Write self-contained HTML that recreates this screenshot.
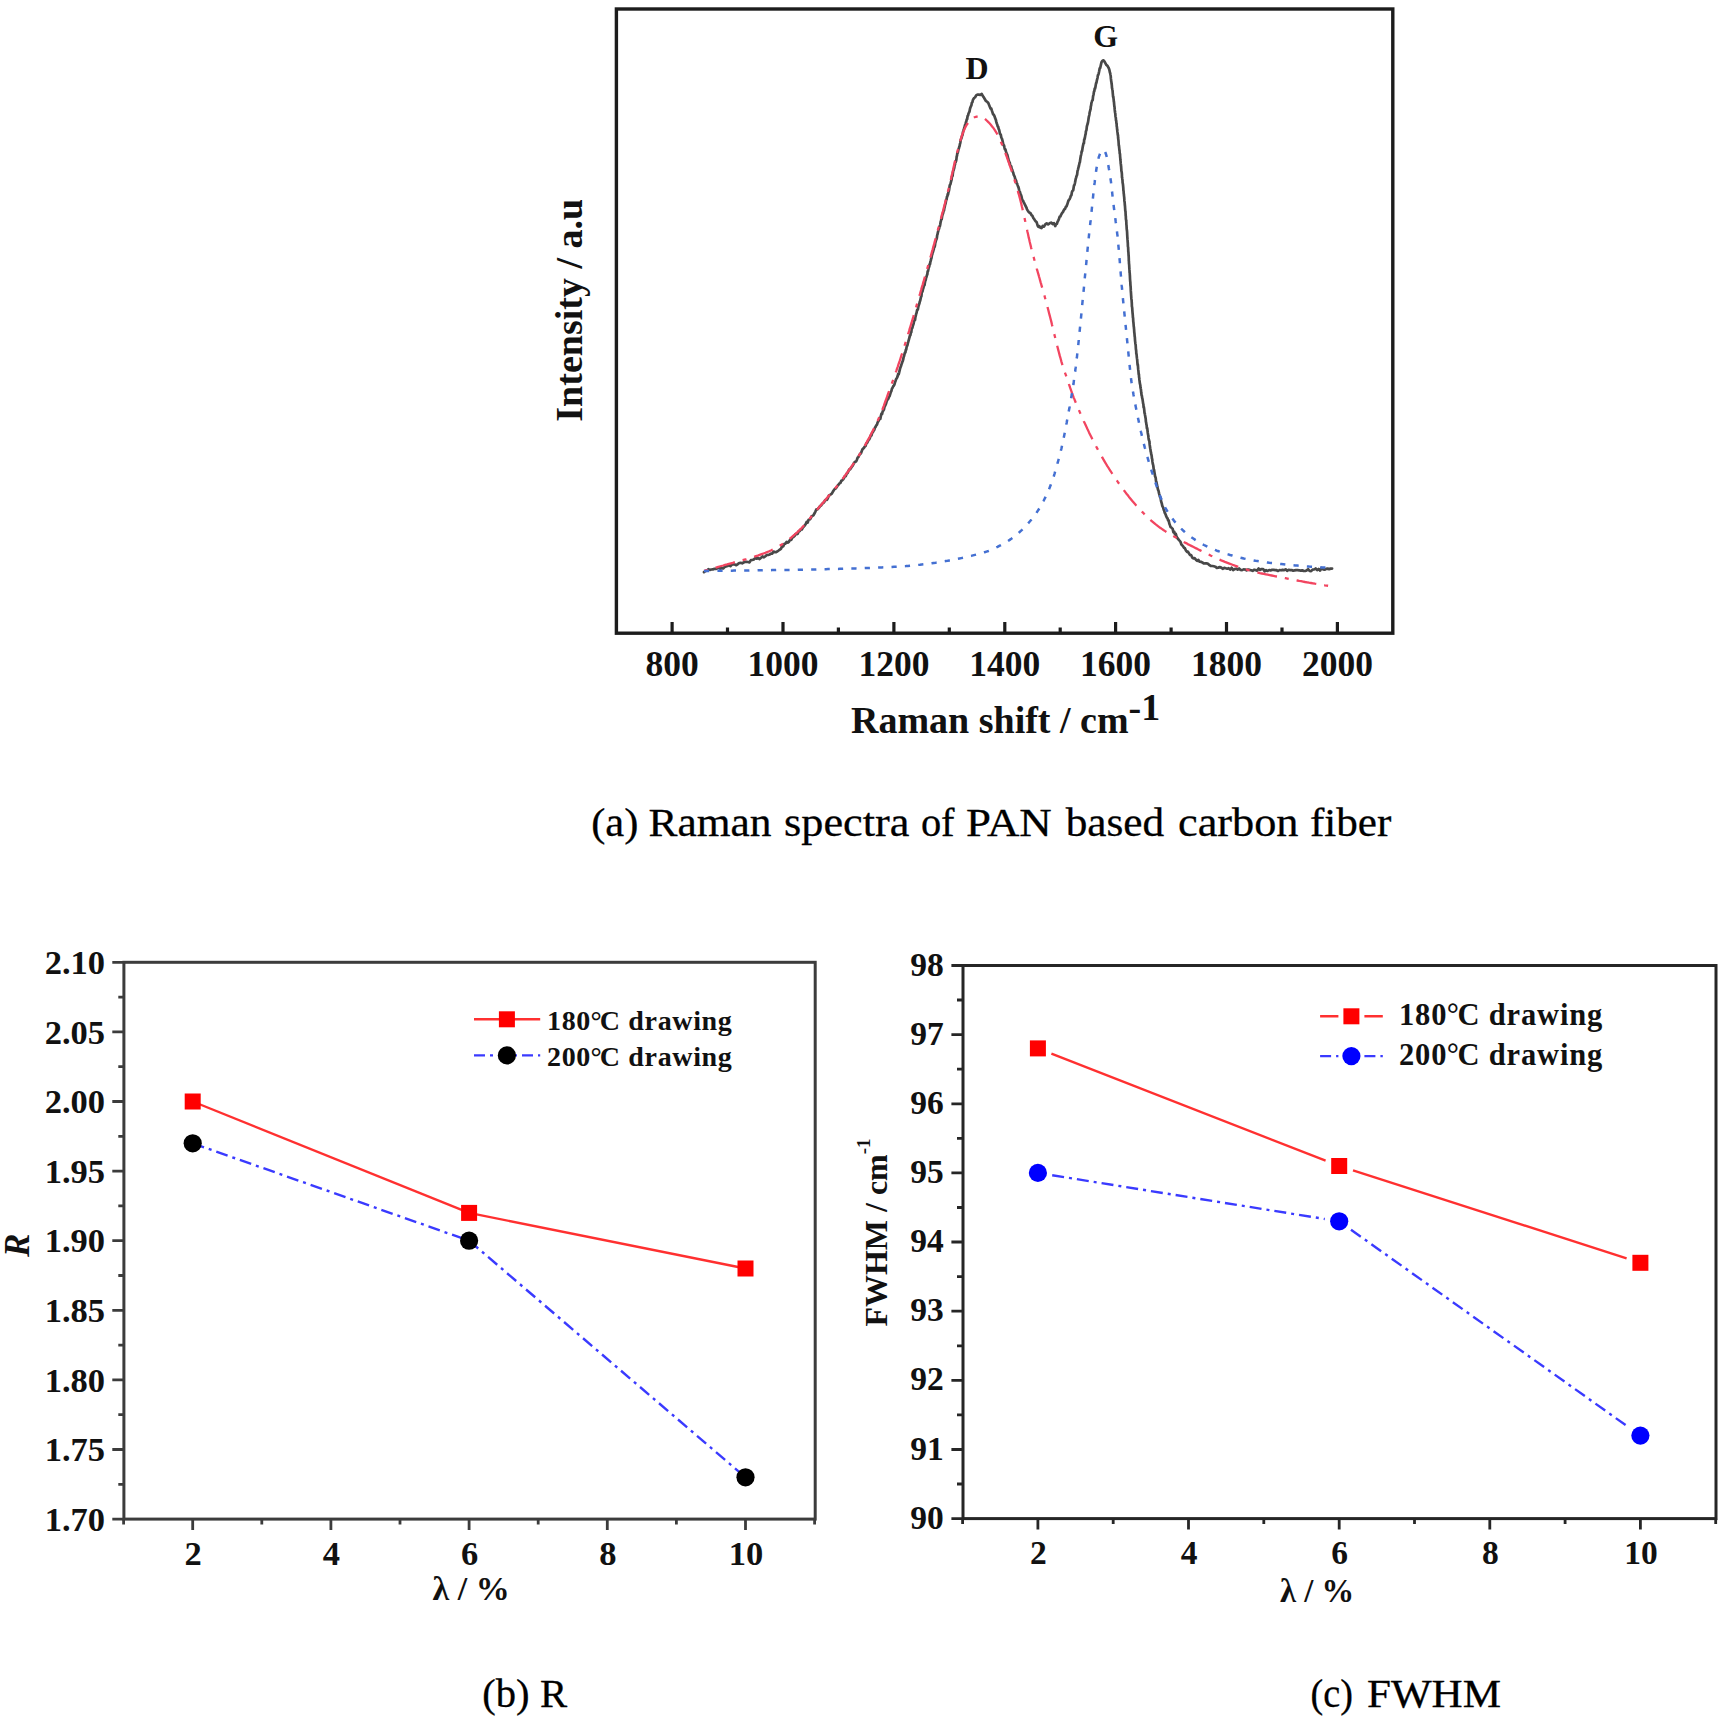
<!DOCTYPE html>
<html lang="en">
<head>
<meta charset="utf-8">
<title>Raman spectra of PAN based carbon fiber</title>
<style>
html,body{margin:0;padding:0;background:#fff;}
body{width:1720px;height:1716px;overflow:hidden;}
svg{display:block;}
text{white-space:pre;}
</style>
</head>
<body>
<svg width="1720" height="1716" viewBox="0 0 1720 1716">
<rect width="1720" height="1716" fill="#ffffff"/>
<g id="figure-graphics">
<g id="chart-a">
<path d="M704 572.1 L705.5 571 L707 570.6 L708.4 569.2 L709.9 569.9 L711.4 569.5 L712.9 569.4 L714.4 568.8 L715.8 568.9 L717.3 568.4 L718.8 567.6 L720.2 568.6 L721.7 568.2 L723.2 568.4 L724.6 567.1 L726.1 566.4 L727.5 566 L729 565.1 L730.5 566.2 L731.9 564.6 L733.4 564.2 L734.8 564.5 L736.3 565.2 L737.8 564.1 L739.2 563 L740.7 562.9 L742.2 563.3 L743.6 562.5 L745.1 561.8 L746.5 561.8 L748 562 L749.5 562.4 L750.9 560.1 L752.3 560 L753.8 559.5 L755.2 558.1 L756.7 558.6 L758.2 558.1 L759.6 559 L761.1 557.8 L762.5 556.4 L764 557.3 L765.4 556.2 L766.8 554.9 L768.2 555 L769.6 554.5 L771 553.7 L772.3 553.6 L773.6 551.6 L774.9 552.2 L776.1 552.2 L777.4 551.3 L778.6 550.5 L779.8 549.6 L780.9 548.8 L782.1 546.3 L783.2 546.4 L784.4 543.8 L785.5 543.6 L786.7 541.8 L787.8 542.6 L788.9 541.8 L790 539.9 L791.2 540 L792.3 537.6 L793.4 537 L794.5 536 L795.5 534.2 L796.6 534.1 L797.7 533.9 L798.7 531.1 L799.7 531.1 L800.8 529.4 L801.8 529.5 L802.8 527.6 L803.8 526.6 L804.8 525.4 L805.7 524.1 L806.7 521.9 L807.7 522.5 L808.6 519.7 L809.6 519.5 L810.6 518.5 L811.5 516.5 L812.5 515.9 L813.4 515.4 L814.4 513.5 L815.3 511.8 L816.3 509.4 L817.2 509.4 L818.2 508.5 L819.2 507.4 L820.1 506 L821.1 505.6 L822.1 503.9 L823 503.1 L824 502.4 L825 500.3 L826 499.5 L826.9 499.9 L827.9 498 L828.9 495.5 L829.9 495.1 L830.9 494.3 L831.8 493.6 L832.8 491.8 L833.8 490.2 L834.7 489 L835.7 488.6 L836.6 487.3 L837.6 485.6 L838.5 484.7 L839.5 483.4 L840.4 482.9 L841.3 480.8 L842.2 480.4 L843.1 479.4 L844 478 L844.9 476 L845.8 476.1 L846.7 473.6 L847.5 473.1 L848.4 471.2 L849.3 469.3 L850.2 469.3 L851 468.1 L851.9 466.6 L852.7 465.6 L853.6 463.8 L854.4 462.5 L855.2 461.6 L856.1 461.6 L856.9 459.7 L857.7 457.6 L858.5 457 L859.3 455.1 L860.1 453.9 L860.9 453.4 L861.7 451.3 L862.5 449.3 L863.3 448.5 L864 447.8 L864.8 446.5 L865.6 445.9 L866.3 443.4 L867.1 443 L867.8 441.5 L868.6 439.9 L869.3 439.2 L870 437.6 L870.7 435.5 L871.5 435.4 L872.2 432.7 L872.9 432.1 L873.6 430.7 L874.3 429.7 L875 427.6 L875.7 426.7 L876.3 425.3 L877 424.7 L877.7 422.2 L878.3 421.4 L879 419.9 L879.6 417.9 L880.3 418.9 L880.9 415.9 L881.5 413.7 L882.1 414.1 L882.7 411.2 L883.3 410.7 L883.9 409.6 L884.4 407.3 L885 406 L885.6 404.6 L886.1 403.4 L886.7 401.1 L887.3 400 L887.8 399.3 L888.4 398.6 L889 396.9 L889.6 396.2 L890.2 394.2 L890.8 392.1 L891.4 391 L892 388.5 L892.6 387.7 L893.2 386.3 L893.8 385.7 L894.4 384.6 L895 382.4 L895.5 381 L896.1 379.1 L896.6 378.5 L897.2 377.4 L897.7 376.1 L898.2 373.9 L898.7 374.2 L899.2 372.3 L899.7 370.1 L900.1 368.4 L900.6 367.1 L901 366 L901.5 364.4 L901.9 363.3 L902.3 362 L902.8 360.9 L903.2 359.4 L903.6 357.2 L904.1 356 L904.5 354.1 L904.9 352.6 L905.4 352.6 L905.8 349.8 L906.2 349.8 L906.6 347 L907.1 345.9 L907.5 345 L907.9 342.9 L908.3 341.7 L908.8 339.8 L909.2 338.3 L909.6 337 L910 335.3 L910.4 335.2 L910.8 332.7 L911.3 332.4 L911.7 328.3 L912.1 328.5 L912.5 327.4 L912.9 325.4 L913.3 324.8 L913.7 323.1 L914.1 321.1 L914.6 320.1 L915 320 L915.4 317.1 L915.8 315.7 L916.2 313.8 L916.6 312.7 L917 310.4 L917.4 309.6 L917.8 309.7 L918.2 307.4 L918.6 305.7 L919 304.6 L919.4 303.6 L919.8 301.4 L920.2 300.8 L920.6 298.8 L921 296.8 L921.4 296.3 L921.8 292.4 L922.2 292 L922.6 291.1 L923 288.9 L923.4 287.9 L923.8 286.2 L924.2 284.7 L924.5 285.3 L924.9 282.6 L925.3 280.7 L925.7 280.1 L926.1 277.7 L926.5 276.9 L926.9 275.2 L927.3 274.5 L927.7 271.2 L928 271.1 L928.4 269.2 L928.8 267 L929.2 266.9 L929.6 264.3 L930 264.3 L930.3 262.2 L930.7 260.9 L931.1 259.1 L931.5 258.1 L931.9 255 L932.2 254.7 L932.6 252.8 L933 251.9 L933.4 250.3 L933.8 249.2 L934.1 246.9 L934.5 247.1 L934.9 245.9 L935.3 242.9 L935.7 241.6 L936 240.3 L936.4 239.5 L936.8 238.4 L937.2 235.1 L937.6 234 L937.9 232.3 L938.3 230.8 L938.7 229 L939.1 228.8 L939.5 226.4 L939.8 226.5 L940.2 224.7 L940.6 222.1 L941 220.7 L941.3 219.5 L941.7 219.2 L942.1 216.4 L942.5 214.6 L942.8 214 L943.2 212.8 L943.6 210.7 L944 210.6 L944.3 208.4 L944.7 207 L945.1 204.8 L945.5 203.8 L945.8 202.3 L946.2 199.6 L946.6 199.7 L946.9 197 L947.3 196.6 L947.7 194.2 L948 194.9 L948.4 192.4 L948.8 191.3 L949.1 189.9 L949.5 187.1 L949.8 185 L950.2 184.7 L950.5 184 L950.9 182.1 L951.2 181 L951.6 179.7 L951.9 176.7 L952.3 176.4 L952.6 175.9 L952.9 172.9 L953.3 170.6 L953.6 170.2 L954 168.6 L954.3 167.7 L954.6 165.4 L955 164.5 L955.3 161.7 L955.7 162.1 L956 161.1 L956.4 159.4 L956.7 156.3 L957 155.9 L957.4 152.5 L957.7 153 L958.1 151.3 L958.5 149.3 L958.8 148.6 L959.2 147.1 L959.6 146.1 L959.9 144.2 L960.3 142.8 L960.7 140 L961.1 139 L961.5 138 L961.8 137 L962.2 135.4 L962.6 134.8 L963 132 L963.4 130.9 L963.8 129.7 L964.2 128 L964.6 127 L965 124.9 L965.5 124.7 L965.9 122.2 L966.3 121.6 L966.7 119.5 L967.2 119 L967.6 115.8 L968.1 115.5 L968.5 113.5 L969 112.5 L969.5 111.6 L970 108.8 L970.5 107.3 L971 106.1 L971.4 105.3 L971.9 102.6 L972.4 102.3 L972.9 100 L973.5 98.8 L974.2 98 L975.1 97.3 L976.2 95.4 L977.5 94.5 L978.8 94.6 L980.3 94.8 L981.7 94 L982.9 96.2 L984 97.6 L984.9 99.3 L985.9 101 L986.7 101.4 L987.6 102.3 L988.3 103 L989.1 105 L989.8 106.7 L990.5 108.4 L991.2 108.4 L991.8 110.4 L992.4 112.1 L993 114.1 L993.6 114.6 L994.2 115.5 L994.7 116.8 L995.2 118.4 L995.8 119.6 L996.3 121.9 L996.8 123.5 L997.3 124.7 L997.7 126.4 L998.2 126.8 L998.6 128.8 L999.1 129.7 L999.5 131.4 L999.9 133.6 L1000.4 134.3 L1000.8 134.6 L1001.2 137 L1001.7 138.2 L1002.1 139.1 L1002.6 141 L1003.1 143.5 L1003.5 145.3 L1004 145.4 L1004.5 147.8 L1004.9 149.3 L1005.4 149.3 L1005.9 151.4 L1006.4 152.8 L1006.8 154.4 L1007.3 154.7 L1007.8 156.9 L1008.3 159.2 L1008.8 160.7 L1009.3 162.5 L1009.7 162.6 L1010.2 165.3 L1010.7 166 L1011.2 166.2 L1011.7 168.9 L1012.2 169.7 L1012.7 171.6 L1013.2 172.6 L1013.7 174.8 L1014.2 175.7 L1014.7 176.8 L1015.2 178.9 L1015.7 179.9 L1016.2 180.9 L1016.7 183.4 L1017.2 183.8 L1017.6 185.1 L1018.1 186.6 L1018.5 187.4 L1019 189.4 L1019.5 192.3 L1020 192.1 L1020.4 194 L1020.9 194.8 L1021.5 196.5 L1022 199.1 L1022.5 200.2 L1023.1 200.7 L1023.7 202.4 L1024.3 203.3 L1024.9 204.7 L1025.6 206 L1026.3 207.3 L1027 209.3 L1027.8 210.7 L1028.7 211.9 L1029.6 212.7 L1030.5 213.2 L1031.5 215.1 L1032.4 215.8 L1033.3 218 L1034.2 219.1 L1035.1 220.7 L1035.9 221.6 L1036.7 222.3 L1037.6 225.5 L1038.4 226.9 L1039.4 226.2 L1040.4 227.7 L1041.5 228.1 L1042.7 226 L1044 226.7 L1045.3 224.4 L1046.7 223.3 L1048.1 224.3 L1049.6 223.3 L1051.1 222.6 L1052.6 224 L1054 223.2 L1055.2 226.1 L1056.1 224.2 L1056.9 223.8 L1057.5 221.9 L1058.2 220.6 L1058.9 219.2 L1059.6 216.8 L1060.4 216.5 L1061.2 214.6 L1062 213.1 L1062.9 212.1 L1063.7 210.4 L1064.4 209.2 L1065.1 208.9 L1065.8 206.9 L1066.5 206.4 L1067.2 204.6 L1067.9 202.4 L1068.5 200.5 L1069.1 199.8 L1069.7 199 L1070.3 197.5 L1070.9 195.6 L1071.4 195.3 L1071.9 192.3 L1072.3 191.1 L1072.8 190.5 L1073.2 190.4 L1073.6 187.8 L1074 185.5 L1074.4 185.1 L1074.8 183.6 L1075.1 182.3 L1075.5 180.1 L1075.8 178.4 L1076.2 177.4 L1076.5 176.2 L1076.9 175.4 L1077.2 174.2 L1077.5 171.1 L1077.9 169.8 L1078.2 168.6 L1078.6 167 L1078.9 166 L1079.2 164.5 L1079.5 162.9 L1079.9 162.1 L1080.2 159.7 L1080.5 157.7 L1080.8 155.9 L1081.1 154.8 L1081.4 153.3 L1081.7 151.3 L1082 151.4 L1082.3 149.7 L1082.6 147.8 L1082.9 146.1 L1083.3 144.2 L1083.6 143.1 L1083.9 143.3 L1084.2 139.4 L1084.5 139.3 L1084.8 138.2 L1085.1 136.4 L1085.4 134.7 L1085.7 133.8 L1085.9 131.2 L1086.2 130.8 L1086.5 129.8 L1086.8 126.9 L1087.1 125.5 L1087.4 124.6 L1087.7 123.7 L1088 122.4 L1088.3 120.5 L1088.6 118.3 L1088.9 116.5 L1089.1 115.9 L1089.4 114.5 L1089.7 112.1 L1090 111.3 L1090.3 110 L1090.6 109 L1090.8 106.3 L1091.1 105.7 L1091.4 103.2 L1091.7 102.2 L1092 101 L1092.3 100.4 L1092.7 100.1 L1093 96.8 L1093.3 95.4 L1093.6 94.3 L1094 91.4 L1094.3 91.2 L1094.7 88.5 L1095 88.8 L1095.4 87.2 L1095.7 85.2 L1096.1 83 L1096.4 83 L1096.8 80.7 L1097.2 79.2 L1097.5 78 L1097.9 75.1 L1098.2 75 L1098.6 73.9 L1099 72 L1099.3 70.4 L1099.7 68.3 L1100.2 67.9 L1100.6 66.2 L1101 64.4 L1101.5 62.2 L1102 61.4 L1102.6 60.7 L1103.5 60.3 L1104.7 61.9 L1105.5 63.3 L1106.3 64.8 L1107 65.3 L1107.8 66.4 L1108.5 67.6 L1109.2 69.2 L1109.6 70.9 L1109.9 72.6 L1110.2 73.2 L1110.5 75 L1110.7 75.8 L1110.9 78.7 L1111 79.2 L1111.2 81.2 L1111.4 82 L1111.6 83.8 L1111.8 85 L1112 87.9 L1112.2 88.6 L1112.4 89.8 L1112.6 90.8 L1112.7 92.5 L1112.9 94.7 L1113.1 96.8 L1113.3 96.5 L1113.5 98.3 L1113.7 100.2 L1113.8 101.4 L1114 102.3 L1114.2 104.8 L1114.4 106.7 L1114.5 106.8 L1114.7 109.4 L1114.9 111.3 L1115.1 112.8 L1115.3 113.5 L1115.5 116.6 L1115.6 117 L1115.8 117.7 L1116 120.3 L1116.2 120.5 L1116.4 123.2 L1116.6 123.4 L1116.7 126.1 L1116.9 126.8 L1117.1 129.3 L1117.3 130.5 L1117.4 131.9 L1117.6 133.1 L1117.8 135.2 L1118 135 L1118.1 137.8 L1118.3 139.3 L1118.5 140.9 L1118.6 142.5 L1118.8 145.7 L1118.9 145.1 L1119.1 147 L1119.2 148.1 L1119.4 150.4 L1119.5 149.8 L1119.7 153.5 L1119.8 153.6 L1120 154.1 L1120.1 156.3 L1120.3 158.3 L1120.4 160 L1120.6 161.4 L1120.7 163.4 L1120.9 164.4 L1121 165.9 L1121.1 166.1 L1121.3 169.2 L1121.4 171 L1121.6 171.6 L1121.7 172.2 L1121.9 174.1 L1122 177.4 L1122.2 177.5 L1122.3 178.9 L1122.5 180.3 L1122.6 182.7 L1122.8 183.5 L1123 184.8 L1123.1 185.9 L1123.3 188.2 L1123.4 190.4 L1123.6 191.2 L1123.7 193.3 L1123.9 194.4 L1124 195.8 L1124.2 197.4 L1124.3 198.8 L1124.4 200.9 L1124.6 202 L1124.7 202.9 L1124.8 204.8 L1125 206.2 L1125.1 208 L1125.2 209.3 L1125.3 210.9 L1125.5 211.3 L1125.6 213.9 L1125.7 216 L1125.8 215.9 L1125.9 219.1 L1126.1 219.8 L1126.2 221 L1126.3 221.6 L1126.4 224.8 L1126.5 225.1 L1126.6 226.8 L1126.7 229 L1126.8 229.5 L1127 231 L1127.1 232.4 L1127.2 234.6 L1127.3 236.5 L1127.4 237.9 L1127.5 239.4 L1127.6 240.4 L1127.7 242.2 L1127.8 243.2 L1127.9 246.3 L1128 246.7 L1128.1 246.9 L1128.2 249 L1128.3 252 L1128.4 251.8 L1128.5 253.8 L1128.6 255.8 L1128.7 256.4 L1128.8 259.2 L1128.8 261.1 L1128.9 261.1 L1129 263.7 L1129.1 264 L1129.2 265.5 L1129.3 267.7 L1129.4 269.2 L1129.5 270.2 L1129.6 272.6 L1129.7 272.7 L1129.8 274.5 L1129.9 275.9 L1130 278.5 L1130.1 280 L1130.2 281.4 L1130.3 281.8 L1130.4 284.1 L1130.5 285.8 L1130.6 286 L1130.7 288 L1130.8 290.4 L1130.9 291.9 L1131 293.2 L1131.1 294.8 L1131.2 296.2 L1131.3 297.6 L1131.4 298.9 L1131.6 300 L1131.7 301.8 L1131.8 303.2 L1131.9 306.4 L1132 306.6 L1132.2 307.9 L1132.3 309.3 L1132.4 310.9 L1132.5 312.3 L1132.7 314.3 L1132.8 315.4 L1132.9 317.4 L1133.1 318 L1133.2 320.1 L1133.3 321.9 L1133.4 322.2 L1133.6 324.5 L1133.7 326 L1133.9 327.2 L1134 328.6 L1134.1 329.3 L1134.3 332.6 L1134.4 332.8 L1134.5 334.1 L1134.7 336.7 L1134.8 336.7 L1135 339.9 L1135.1 341.1 L1135.3 342.7 L1135.4 343.7 L1135.6 344.6 L1135.7 345.7 L1135.9 349.2 L1136 349.5 L1136.2 351 L1136.3 353.7 L1136.5 353.9 L1136.7 355.6 L1136.8 357.1 L1137 358.7 L1137.2 359.6 L1137.3 361.4 L1137.5 364 L1137.7 365.2 L1137.8 364.4 L1138 366.5 L1138.2 369.4 L1138.4 370.6 L1138.5 371.9 L1138.7 374.3 L1138.9 374.1 L1139.1 377.3 L1139.3 378.2 L1139.4 379.9 L1139.6 381.2 L1139.8 383.1 L1140 383.9 L1140.3 385.2 L1140.5 387.5 L1140.7 388.6 L1140.9 389.2 L1141.2 392.3 L1141.4 393.7 L1141.6 395.3 L1141.9 395.9 L1142.1 397.6 L1142.4 398.6 L1142.6 399.8 L1142.9 401.9 L1143.1 403.4 L1143.4 404.4 L1143.6 407.4 L1143.8 406.8 L1144.1 408.7 L1144.3 410.3 L1144.5 413 L1144.8 413.5 L1145 415 L1145.2 416.1 L1145.5 417.7 L1145.7 418.8 L1145.9 421.7 L1146.2 422.9 L1146.4 424.6 L1146.6 425.1 L1146.9 428.5 L1147.1 427.9 L1147.3 428.7 L1147.6 431.3 L1147.8 433 L1148.1 434.9 L1148.3 435.3 L1148.5 437.7 L1148.8 439.9 L1149 439.8 L1149.3 441.4 L1149.5 442.3 L1149.7 444.9 L1150 446.8 L1150.2 448.2 L1150.5 449.7 L1150.7 451.6 L1151 452.3 L1151.2 454.2 L1151.4 454.6 L1151.7 456.2 L1151.9 458.3 L1152.2 459.1 L1152.4 461.4 L1152.7 463.4 L1152.9 464.3 L1153.2 465.1 L1153.4 466.5 L1153.7 469.3 L1154 469.5 L1154.3 471.5 L1154.5 472.7 L1154.8 474.4 L1155.1 476.5 L1155.4 477 L1155.7 477.9 L1156 481.1 L1156.4 481.8 L1156.7 483.6 L1157 484.6 L1157.3 486.6 L1157.7 488.3 L1158 489.8 L1158.4 490.3 L1158.7 491.7 L1159.1 493.6 L1159.5 495 L1159.9 496.6 L1160.2 497.3 L1160.6 497.8 L1161 500.9 L1161.5 502.6 L1161.9 503.9 L1162.3 505.9 L1162.8 506.9 L1163.2 507.6 L1163.7 509.8 L1164.2 510.6 L1164.7 512.8 L1165.2 513.6 L1165.8 515.1 L1166.3 516.4 L1166.9 517.7 L1167.5 518.2 L1168.1 520.5 L1168.7 520.4 L1169.3 523.5 L1169.9 525.1 L1170.6 527.1 L1171.2 527.4 L1171.9 528.1 L1172.7 528.9 L1173.4 532.3 L1174.2 531.6 L1175 534.3 L1175.7 533.6 L1176.5 536.2 L1177.3 538 L1178.2 539 L1179 540.1 L1179.8 540.9 L1180.6 542.1 L1181.4 544.5 L1182.3 545.4 L1183.1 546.3 L1184 547.7 L1184.9 548.2 L1185.9 550.5 L1186.9 551.8 L1187.9 551.7 L1188.9 553.3 L1190 554.9 L1191.1 555 L1192.3 557.6 L1193.4 558.3 L1194.6 558.1 L1195.9 559.7 L1197.1 560.9 L1198.4 559.9 L1199.6 561.7 L1201 561.8 L1202.3 562.4 L1203.7 563.5 L1205.1 563.4 L1206.6 563.4 L1208 563.8 L1209.5 565.2 L1210.9 566 L1212.4 566 L1213.9 566.3 L1215.3 566.7 L1216.8 567.8 L1218.2 567.6 L1219.7 567.1 L1221.2 567.6 L1222.7 568.8 L1224.2 567.9 L1225.7 568.3 L1227.1 568.7 L1228.6 568.2 L1230.1 569.6 L1231.6 567.8 L1233.1 570.1 L1234.6 569.1 L1236.1 568.7 L1237.6 569.7 L1239.1 568.5 L1240.6 569.9 L1242.1 570.1 L1243.6 569.4 L1245.1 569.5 L1246.6 570.4 L1248.1 569.5 L1249.6 569.9 L1251.1 570.2 L1252.6 570.9 L1254.1 569.7 L1255.6 570.1 L1257.1 570.7 L1258.6 568.5 L1260.1 569.9 L1261.6 569 L1263.1 569 L1264.6 571.3 L1266.1 570.2 L1267.6 571 L1269.1 570 L1270.6 570.4 L1272.1 569.8 L1273.6 569.8 L1275.1 570.1 L1276.6 570.2 L1278.1 571 L1279.6 570 L1281.1 570.3 L1282.6 569.9 L1284.1 570.2 L1285.6 569.3 L1287.1 570.8 L1288.6 569.8 L1290.1 570.1 L1291.6 570 L1293.1 570.7 L1294.6 570.4 L1296.1 570.1 L1297.6 570.2 L1299.1 570.3 L1300.6 570.6 L1302.1 570.4 L1303.6 570.9 L1305.1 571 L1306.6 570.4 L1308.1 569.2 L1309.6 571 L1311.1 571.2 L1312.6 569.6 L1314.1 569.5 L1315.6 568.5 L1317.1 570.1 L1318.6 569 L1320.1 570.6 L1321.6 567.9 L1323.1 569.4 L1324.6 569.7 L1326.1 568.9 L1327.6 568.6 L1329.1 569.1 L1330.6 568.6 L1332.1 568.6" fill="none" stroke="#484848" stroke-width="2.7" stroke-linejoin="round" stroke-linecap="round"/>
<path d="M704 571 L705.9 570.4 L707.8 569.9 L709.8 569.3 L711.7 568.7 L713.6 568.2 L715.5 567.6 L717.4 567.1 L719.4 566.5 L721.3 566 L723.2 565.5 L725.1 564.9 L727.1 564.4 L729 563.8 L730.9 563.3 L732.8 562.8 L734.8 562.2 L736.7 561.7 L738.7 561.2 L740.6 560.7 L742.5 560.2 L744.5 559.7 L746.4 559.2 L748.3 558.6 L750.2 558.1 L752.1 557.5 L754 556.8 L755.9 556.2 L757.8 555.6 L759.7 554.9 L761.6 554.2 L763.5 553.5 L765.4 552.8 L767.2 552 L769.1 551.3 L770.9 550.5 L772.7 549.6 L774.5 548.8 L776.2 547.8 L778 546.8 L779.7 545.8 L781.4 544.7 L783.1 543.6 L784.7 542.4 L786.3 541.3 L787.9 540.1 L789.5 538.9 L791.1 537.6 L792.6 536.3 L794.2 535 L795.7 533.7 L797.2 532.4 L798.6 531 L800 529.6 L801.4 528.2 L802.8 526.7 L804.1 525.3 L805.4 523.8 L806.7 522.3 L808 520.7 L809.3 519.2 L810.6 517.6 L811.9 516.1 L813.1 514.5 L814.4 513 L815.7 511.4 L817 509.9 L818.2 508.3 L819.5 506.8 L820.8 505.3 L822.1 503.7 L823.4 502.2 L824.7 500.7 L826 499.2 L827.3 497.6 L828.6 496.1 L829.9 494.6 L831.2 493.1 L832.5 491.5 L833.8 490 L835 488.4 L836.3 486.9 L837.6 485.3 L838.8 483.8 L840 482.2 L841.3 480.6 L842.5 479 L843.7 477.4 L844.9 475.8 L846 474.2 L847.2 472.6 L848.4 471 L849.5 469.4 L850.7 467.7 L851.8 466.1 L853 464.4 L854.1 462.8 L855.2 461.1 L856.3 459.4 L857.4 457.7 L858.5 456.1 L859.6 454.4 L860.6 452.7 L861.7 451 L862.7 449.2 L863.7 447.5 L864.7 445.8 L865.7 444.1 L866.7 442.3 L867.6 440.6 L868.6 438.8 L869.6 437.1 L870.5 435.3 L871.4 433.5 L872.3 431.7 L873.2 429.9 L874.1 428.2 L875 426.3 L875.9 424.5 L876.7 422.7 L877.6 420.9 L878.4 419.1 L879.2 417.3 L880 415.4 L880.8 413.6 L881.5 411.7 L882.3 409.9 L883 408 L883.7 406.1 L884.3 404.3 L885 402.4 L885.7 400.5 L886.4 398.6 L887.1 396.7 L887.7 394.8 L888.4 393 L889.1 391.1 L889.8 389.2 L890.5 387.3 L891.1 385.4 L891.8 383.6 L892.5 381.7 L893.2 379.8 L893.8 377.9 L894.5 376 L895.1 374.1 L895.8 372.2 L896.5 370.3 L897.1 368.4 L897.8 366.6 L898.4 364.7 L899 362.8 L899.7 360.9 L900.3 359 L900.9 357.1 L901.5 355.2 L902.2 353.3 L902.8 351.4 L903.4 349.5 L904 347.6 L904.6 345.7 L905.2 343.7 L905.8 341.8 L906.4 339.9 L906.9 338 L907.5 336.1 L908.1 334.2 L908.7 332.3 L909.3 330.4 L909.8 328.4 L910.4 326.5 L911 324.6 L911.6 322.7 L912.1 320.8 L912.7 318.9 L913.3 316.9 L913.8 315 L914.4 313.1 L914.9 311.2 L915.5 309.3 L916.1 307.3 L916.6 305.4 L917.2 303.5 L917.7 301.6 L918.3 299.6 L918.9 297.7 L919.4 295.8 L920 293.9 L920.5 292 L921.1 290 L921.6 288.1 L922.2 286.2 L922.8 284.3 L923.3 282.4 L923.9 280.4 L924.4 278.5 L925 276.6 L925.5 274.7 L926.1 272.7 L926.6 270.8 L927.2 268.9 L927.7 267 L928.3 265 L928.8 263.1 L929.3 261.2 L929.9 259.3 L930.4 257.3 L931 255.4 L931.5 253.5 L932 251.6 L932.6 249.6 L933.1 247.7 L933.6 245.8 L934.2 243.9 L934.7 241.9 L935.2 240 L935.7 238.1 L936.3 236.1 L936.8 234.2 L937.3 232.3 L937.8 230.3 L938.3 228.4 L938.9 226.5 L939.4 224.5 L939.9 222.6 L940.4 220.7 L940.9 218.7 L941.4 216.8 L941.9 214.9 L942.4 212.9 L943 211 L943.5 209.1 L944 207.1 L944.5 205.2 L945 203.3 L945.5 201.3 L946 199.4 L946.4 197.5 L946.9 195.5 L947.4 193.6 L947.9 191.6 L948.4 189.7 L948.9 187.8 L949.4 185.8 L949.8 183.9 L950.3 181.9 L950.7 180 L951.2 178 L951.6 176.1 L952.1 174.1 L952.5 172.2 L953 170.2 L953.4 168.3 L953.8 166.3 L954.3 164.4 L954.7 162.4 L955.2 160.5 L955.6 158.5 L956.1 156.6 L956.6 154.6 L957.1 152.7 L957.6 150.8 L958.1 148.8 L958.6 146.9 L959.1 144.9 L959.6 143 L960.2 141.1 L960.8 139.2 L961.4 137.3 L962 135.4 L962.7 133.5 L963.4 131.6 L964.2 129.7 L965 127.9 L965.9 126.2 L966.9 124.5 L968.1 122.8 L969.4 121.3 L970.8 119.9 L972.4 118.5 L974.1 117.5 L975.9 116.8 L977.9 116.3 L979.9 116.4 L981.9 117 L983.6 117.8 L985.2 119.1 L986.7 120.5 L988.1 121.9 L989.5 123.3 L990.8 124.8 L992.1 126.4 L993.3 127.9 L994.5 129.6 L995.6 131.3 L996.6 133 L997.5 134.7 L998.4 136.5 L999.3 138.3 L1000.1 140.2 L1000.9 142 L1001.7 143.8 L1002.5 145.7 L1003.3 147.5 L1004 149.4 L1004.7 151.3 L1005.4 153.1 L1006.1 155 L1006.8 156.9 L1007.5 158.8 L1008.1 160.7 L1008.8 162.5 L1009.4 164.4 L1010.1 166.3 L1010.7 168.2 L1011.4 170.1 L1012 172 L1012.6 173.9 L1013.2 175.8 L1013.8 177.7 L1014.5 179.6 L1015 181.6 L1015.6 183.5 L1016.2 185.4 L1016.8 187.3 L1017.3 189.2 L1017.9 191.1 L1018.4 193.1 L1019 195 L1019.5 196.9 L1020 198.8 L1020.5 200.8 L1021 202.7 L1021.5 204.7 L1021.9 206.6 L1022.4 208.5 L1022.8 210.5 L1023.3 212.4 L1023.7 214.4 L1024.2 216.3 L1024.6 218.3 L1025 220.3 L1025.4 222.2 L1025.8 224.2 L1026.3 226.1 L1026.7 228.1 L1027.1 230 L1027.5 232 L1028 234 L1028.4 235.9 L1028.8 237.9 L1029.3 239.8 L1029.7 241.8 L1030.2 243.7 L1030.7 245.7 L1031.1 247.6 L1031.6 249.5 L1032.1 251.5 L1032.6 253.4 L1033.1 255.3 L1033.7 257.3 L1034.2 259.2 L1034.7 261.1 L1035.2 263.1 L1035.8 265 L1036.3 266.9 L1036.8 268.8 L1037.4 270.8 L1037.9 272.7 L1038.5 274.6 L1039 276.5 L1039.6 278.5 L1040.1 280.4 L1040.6 282.3 L1041.2 284.2 L1041.7 286.2 L1042.3 288.1 L1042.8 290 L1043.4 291.9 L1043.9 293.9 L1044.5 295.8 L1045 297.7 L1045.5 299.6 L1046.1 301.6 L1046.6 303.5 L1047.1 305.4 L1047.6 307.4 L1048.1 309.3 L1048.6 311.2 L1049.1 313.2 L1049.6 315.1 L1050.1 317 L1050.6 319 L1051.1 320.9 L1051.6 322.9 L1052 324.8 L1052.5 326.8 L1053 328.7 L1053.5 330.7 L1053.9 332.6 L1054.4 334.6 L1054.9 336.5 L1055.3 338.4 L1055.8 340.4 L1056.3 342.3 L1056.8 344.3 L1057.3 346.2 L1057.8 348.1 L1058.3 350.1 L1058.8 352 L1059.3 353.9 L1059.8 355.9 L1060.4 357.8 L1060.9 359.7 L1061.4 361.6 L1062 363.6 L1062.6 365.5 L1063.2 367.4 L1063.8 369.3 L1064.4 371.2 L1065.1 373.1 L1065.8 374.9 L1066.4 376.8 L1067.1 378.7 L1067.8 380.6 L1068.4 382.5 L1069 384.4 L1069.7 386.3 L1070.3 388.2 L1071 390.1 L1071.6 392 L1072.3 393.8 L1073 395.7 L1073.7 397.6 L1074.5 399.4 L1075.2 401.3 L1076 403.2 L1076.7 405 L1077.5 406.9 L1078.3 408.7 L1079.1 410.5 L1079.9 412.4 L1080.7 414.2 L1081.5 416 L1082.3 417.9 L1083.1 419.7 L1083.9 421.5 L1084.8 423.3 L1085.6 425.1 L1086.5 426.9 L1087.3 428.8 L1088.2 430.6 L1089 432.4 L1089.9 434.2 L1090.8 436 L1091.7 437.8 L1092.6 439.6 L1093.5 441.3 L1094.4 443.1 L1095.3 444.9 L1096.3 446.7 L1097.2 448.4 L1098.2 450.2 L1099.1 451.9 L1100.1 453.7 L1101.1 455.4 L1102.1 457.1 L1103.1 458.9 L1104.1 460.6 L1105.1 462.3 L1106.1 464 L1107.2 465.8 L1108.3 467.5 L1109.3 469.2 L1110.4 470.8 L1111.5 472.5 L1112.6 474.2 L1113.7 475.9 L1114.8 477.5 L1115.9 479.2 L1117.1 480.8 L1118.2 482.5 L1119.4 484.1 L1120.5 485.7 L1121.7 487.3 L1122.9 488.9 L1124.1 490.5 L1125.3 492.1 L1126.5 493.7 L1127.8 495.3 L1129 496.9 L1130.3 498.5 L1131.5 500 L1132.8 501.6 L1134.1 503.1 L1135.4 504.6 L1136.7 506.1 L1138.1 507.6 L1139.4 509 L1140.8 510.5 L1142.2 511.9 L1143.6 513.3 L1145 514.8 L1146.4 516.2 L1147.9 517.5 L1149.4 518.9 L1150.9 520.3 L1152.4 521.6 L1153.9 522.9 L1155.4 524.2 L1157 525.4 L1158.6 526.6 L1160.2 527.8 L1161.8 528.9 L1163.4 530 L1165.1 531.1 L1166.8 532.2 L1168.5 533.3 L1170.3 534.3 L1172 535.3 L1173.7 536.3 L1175.5 537.3 L1177.2 538.3 L1178.9 539.3 L1180.7 540.3 L1182.4 541.2 L1184.2 542.2 L1186 543.1 L1187.7 544.1 L1189.5 545 L1191.3 545.9 L1193.1 546.8 L1194.9 547.7 L1196.7 548.6 L1198.4 549.5 L1200.2 550.4 L1202 551.3 L1203.8 552.1 L1205.6 553 L1207.4 553.9 L1209.2 554.8 L1211 555.7 L1212.8 556.5 L1214.6 557.4 L1216.5 558.2 L1218.3 559.1 L1220.1 559.9 L1221.9 560.7 L1223.8 561.4 L1225.6 562.2 L1227.5 562.9 L1229.4 563.6 L1231.2 564.3 L1233.1 565 L1235 565.7 L1236.9 566.3 L1238.8 567 L1240.7 567.6 L1242.6 568.3 L1244.5 568.9 L1246.4 569.5 L1248.3 570.1 L1250.2 570.6 L1252.2 571.1 L1254.1 571.6 L1256 572.1 L1258 572.6 L1259.9 573.1 L1261.9 573.5 L1263.8 573.9 L1265.8 574.3 L1267.7 574.7 L1269.7 575.1 L1271.7 575.5 L1273.6 575.9 L1275.6 576.3 L1277.6 576.6 L1279.5 577 L1281.5 577.4 L1283.5 577.8 L1285.4 578.2 L1287.4 578.6 L1289.3 579 L1291.3 579.4 L1293.3 579.7 L1295.2 580.1 L1297.2 580.5 L1299.2 580.9 L1301.1 581.2 L1303.1 581.6 L1305.1 582 L1307 582.3 L1309 582.7 L1311 583 L1312.9 583.3 L1314.9 583.7 L1316.9 584 L1318.9 584.3 L1320.8 584.6 L1322.8 584.9 L1324.8 585.3 L1326.8 585.6 L1328.4 585.8" fill="none" stroke="#f24560" stroke-width="2.3" stroke-dasharray="20 8 4 8" stroke-dashoffset="27.9" stroke-linejoin="round"/>
<path d="M704 571 L706 571 L708 571 L710 570.9 L712 570.9 L714 570.9 L716 570.9 L718 570.8 L720 570.8 L722 570.8 L724 570.8 L726 570.7 L728 570.7 L730 570.7 L732 570.7 L734 570.6 L736 570.6 L738 570.6 L740 570.6 L742 570.5 L744 570.5 L746 570.5 L748 570.5 L750 570.4 L752 570.4 L754 570.4 L756 570.4 L758 570.3 L760 570.3 L762 570.3 L764 570.2 L766 570.2 L768 570.2 L770 570.2 L772 570.1 L774 570.1 L776 570.1 L778 570 L780 570 L782 570 L784 569.9 L786 569.9 L788 569.9 L790 569.9 L792 569.8 L794 569.8 L796 569.8 L798 569.7 L800 569.7 L802 569.7 L804 569.6 L806 569.6 L808 569.5 L810 569.5 L812 569.5 L814 569.4 L816 569.4 L818 569.3 L820 569.3 L822 569.3 L824 569.2 L826 569.2 L828 569.1 L830 569.1 L832 569 L834 569 L836 568.9 L838 568.9 L840 568.8 L842 568.8 L844 568.7 L846 568.7 L848 568.6 L850 568.5 L852 568.5 L854 568.4 L856 568.4 L858 568.3 L860 568.2 L862 568.2 L864 568.1 L866 568 L868 568 L870 567.9 L872 567.8 L874 567.7 L876 567.7 L878 567.6 L880 567.5 L882 567.4 L884 567.3 L886 567.2 L888 567.2 L890 567.1 L892 567 L894 566.8 L895.9 566.7 L897.9 566.6 L899.9 566.5 L901.9 566.4 L903.9 566.2 L905.9 566.1 L907.9 565.9 L909.9 565.7 L911.9 565.5 L913.9 565.3 L915.9 565.1 L917.9 564.9 L919.9 564.7 L921.8 564.4 L923.8 564.2 L925.8 564 L927.8 563.7 L929.8 563.5 L931.8 563.2 L933.7 562.9 L935.7 562.7 L937.7 562.4 L939.7 562.1 L941.7 561.7 L943.6 561.4 L945.6 561.1 L947.6 560.8 L949.6 560.4 L951.5 560.1 L953.5 559.7 L955.4 559.3 L957.4 558.9 L959.4 558.5 L961.3 558.1 L963.3 557.7 L965.2 557.3 L967.2 556.8 L969.1 556.3 L971.1 555.9 L973 555.4 L975 554.9 L976.9 554.4 L978.8 553.9 L980.8 553.4 L982.7 552.8 L984.6 552.2 L986.5 551.6 L988.4 551 L990.3 550.3 L992.1 549.5 L993.9 548.7 L995.7 547.8 L997.5 546.9 L999.3 545.9 L1001 545 L1002.8 544 L1004.5 543 L1006.3 542 L1008 541 L1009.7 539.9 L1011.3 538.8 L1012.9 537.6 L1014.5 536.4 L1016.1 535.1 L1017.6 533.8 L1019.1 532.5 L1020.6 531.1 L1022 529.8 L1023.4 528.4 L1024.8 526.9 L1026.2 525.5 L1027.6 524 L1028.9 522.5 L1030.2 521 L1031.5 519.5 L1032.8 517.9 L1034 516.3 L1035.2 514.7 L1036.3 513.1 L1037.4 511.4 L1038.5 509.7 L1039.6 508 L1040.6 506.3 L1041.6 504.6 L1042.5 502.8 L1043.5 501 L1044.4 499.2 L1045.3 497.4 L1046.1 495.6 L1046.9 493.8 L1047.8 492 L1048.6 490.2 L1049.4 488.3 L1050.1 486.5 L1050.9 484.6 L1051.6 482.8 L1052.3 480.9 L1052.9 479 L1053.6 477.1 L1054.1 475.2 L1054.7 473.3 L1055.2 471.3 L1055.8 469.4 L1056.3 467.5 L1056.9 465.5 L1057.4 463.6 L1058 461.7 L1058.5 459.8 L1059.1 457.8 L1059.6 455.9 L1060.1 454 L1060.6 452 L1061 450.1 L1061.5 448.2 L1061.9 446.2 L1062.4 444.3 L1062.8 442.3 L1063.2 440.3 L1063.6 438.4 L1064 436.4 L1064.4 434.5 L1064.8 432.5 L1065.2 430.5 L1065.6 428.6 L1065.9 426.6 L1066.3 424.6 L1066.7 422.7 L1067 420.7 L1067.4 418.7 L1067.7 416.8 L1068.1 414.8 L1068.5 412.8 L1068.8 410.9 L1069.2 408.9 L1069.6 406.9 L1069.9 405 L1070.3 403 L1070.6 401 L1071 399.1 L1071.3 397.1 L1071.7 395.1 L1072 393.2 L1072.3 391.2 L1072.7 389.2 L1073 387.2 L1073.3 385.3 L1073.6 383.3 L1073.8 381.3 L1074.1 379.3 L1074.4 377.3 L1074.7 375.4 L1074.9 373.4 L1075.2 371.4 L1075.4 369.4 L1075.7 367.4 L1075.9 365.4 L1076.2 363.4 L1076.4 361.5 L1076.6 359.5 L1076.9 357.5 L1077.1 355.5 L1077.3 353.5 L1077.6 351.5 L1077.8 349.5 L1078 347.6 L1078.2 345.6 L1078.4 343.6 L1078.6 341.6 L1078.8 339.6 L1079 337.6 L1079.2 335.6 L1079.4 333.6 L1079.6 331.6 L1079.8 329.6 L1080 327.7 L1080.2 325.7 L1080.4 323.7 L1080.6 321.7 L1080.8 319.7 L1081 317.7 L1081.2 315.7 L1081.4 313.7 L1081.6 311.7 L1081.8 309.7 L1081.9 307.7 L1082.1 305.8 L1082.3 303.8 L1082.5 301.8 L1082.7 299.8 L1082.9 297.8 L1083.1 295.8 L1083.3 293.8 L1083.5 291.8 L1083.7 289.8 L1083.9 287.8 L1084.1 285.8 L1084.3 283.9 L1084.5 281.9 L1084.6 279.9 L1084.8 277.9 L1085 275.9 L1085.2 273.9 L1085.4 271.9 L1085.6 269.9 L1085.8 267.9 L1086 265.9 L1086.2 263.9 L1086.4 262 L1086.5 260 L1086.7 258 L1086.9 256 L1087.1 254 L1087.3 252 L1087.5 250 L1087.7 248 L1087.9 246 L1088.1 244 L1088.3 242.1 L1088.5 240.1 L1088.7 238.1 L1088.9 236.1 L1089.1 234.1 L1089.3 232.1 L1089.5 230.1 L1089.8 228.1 L1090 226.1 L1090.2 224.2 L1090.4 222.2 L1090.7 220.2 L1090.9 218.2 L1091.1 216.2 L1091.3 214.2 L1091.5 212.2 L1091.7 210.2 L1091.9 208.2 L1092.1 206.3 L1092.3 204.3 L1092.5 202.3 L1092.7 200.3 L1092.9 198.3 L1093.1 196.3 L1093.3 194.3 L1093.5 192.3 L1093.7 190.3 L1094 188.3 L1094.2 186.4 L1094.4 184.4 L1094.7 182.4 L1094.9 180.4 L1095.2 178.4 L1095.4 176.4 L1095.7 174.4 L1095.9 172.5 L1096.2 170.5 L1096.5 168.5 L1096.8 166.5 L1097.1 164.6 L1097.5 162.6 L1097.9 160.6 L1098.4 158.7 L1098.9 156.7 L1099.6 154.9 L1100.3 153 L1101.3 151.2 L1102.8 149.9 L1104.5 150.8 L1105.4 152.5 L1106.1 154.5 L1106.6 156.4 L1107 158.3 L1107.4 160.3 L1107.8 162.3 L1108.1 164.2 L1108.5 166.2 L1108.8 168.2 L1109.2 170.2 L1109.5 172.1 L1109.8 174.1 L1110.1 176.1 L1110.4 178.1 L1110.7 180 L1111 182 L1111.2 184 L1111.4 186 L1111.6 188 L1111.8 190 L1112.1 192 L1112.3 193.9 L1112.5 195.9 L1112.7 197.9 L1113 199.9 L1113.2 201.9 L1113.5 203.9 L1113.7 205.9 L1113.9 207.8 L1114.2 209.8 L1114.4 211.8 L1114.7 213.8 L1114.9 215.8 L1115.2 217.8 L1115.5 219.8 L1115.7 221.7 L1116 223.7 L1116.3 225.7 L1116.5 227.7 L1116.8 229.7 L1117 231.6 L1117.2 233.6 L1117.5 235.6 L1117.7 237.6 L1117.9 239.6 L1118 241.6 L1118.2 243.6 L1118.4 245.6 L1118.6 247.6 L1118.8 249.6 L1118.9 251.5 L1119.1 253.5 L1119.3 255.5 L1119.5 257.5 L1119.6 259.5 L1119.8 261.5 L1119.9 263.5 L1120.1 265.5 L1120.3 267.5 L1120.4 269.5 L1120.6 271.5 L1120.7 273.5 L1120.9 275.5 L1121.1 277.5 L1121.2 279.5 L1121.4 281.5 L1121.6 283.4 L1121.7 285.4 L1121.9 287.4 L1122.1 289.4 L1122.3 291.4 L1122.5 293.4 L1122.6 295.4 L1122.8 297.4 L1123 299.4 L1123.2 301.4 L1123.4 303.4 L1123.6 305.4 L1123.8 307.3 L1124 309.3 L1124.2 311.3 L1124.4 313.3 L1124.6 315.3 L1124.8 317.3 L1125 319.3 L1125.2 321.3 L1125.4 323.3 L1125.6 325.3 L1125.8 327.2 L1126 329.2 L1126.2 331.2 L1126.4 333.2 L1126.6 335.2 L1126.8 337.2 L1127 339.2 L1127.2 341.2 L1127.4 343.2 L1127.6 345.2 L1127.8 347.1 L1128 349.1 L1128.2 351.1 L1128.4 353.1 L1128.6 355.1 L1128.8 357.1 L1129 359.1 L1129.2 361.1 L1129.4 363.1 L1129.6 365.1 L1129.8 367.1 L1130 369 L1130.2 371 L1130.4 373 L1130.6 375 L1130.8 377 L1131.1 379 L1131.3 381 L1131.6 382.9 L1131.9 384.9 L1132.2 386.9 L1132.5 388.9 L1132.8 390.8 L1133.2 392.8 L1133.5 394.8 L1133.9 396.8 L1134.2 398.7 L1134.6 400.7 L1135 402.7 L1135.3 404.6 L1135.7 406.6 L1136.1 408.6 L1136.5 410.5 L1136.9 412.5 L1137.3 414.4 L1137.7 416.4 L1138.1 418.4 L1138.5 420.3 L1138.9 422.3 L1139.3 424.2 L1139.7 426.2 L1140.2 428.1 L1140.6 430.1 L1141 432 L1141.5 434 L1141.9 435.9 L1142.4 437.9 L1142.9 439.8 L1143.4 441.8 L1143.8 443.7 L1144.3 445.6 L1144.8 447.6 L1145.4 449.5 L1145.9 451.4 L1146.4 453.4 L1146.9 455.3 L1147.5 457.2 L1148 459.2 L1148.6 461.1 L1149.2 463 L1149.8 464.9 L1150.3 466.8 L1150.9 468.7 L1151.5 470.6 L1152.1 472.5 L1152.8 474.4 L1153.4 476.3 L1154 478.2 L1154.6 480.1 L1155.3 482.1 L1155.9 484 L1156.5 485.9 L1157.2 487.8 L1157.8 489.7 L1158.5 491.6 L1159.2 493.5 L1159.9 495.4 L1160.6 497.3 L1161.3 499.1 L1162.1 501 L1162.9 502.8 L1163.7 504.6 L1164.6 506.3 L1165.5 508.1 L1166.5 509.8 L1167.5 511.5 L1168.6 513.2 L1169.7 514.9 L1170.9 516.6 L1172.1 518.2 L1173.3 519.8 L1174.5 521.4 L1175.8 522.9 L1177.1 524.4 L1178.4 525.9 L1179.8 527.3 L1181.2 528.7 L1182.7 530.1 L1184.2 531.5 L1185.7 532.8 L1187.3 534.1 L1188.8 535.4 L1190.4 536.6 L1192.1 537.7 L1193.7 538.8 L1195.3 539.9 L1197 541 L1198.7 542 L1200.5 543 L1202.2 544 L1204 545 L1205.8 545.9 L1207.6 546.8 L1209.4 547.6 L1211.3 548.4 L1213.1 549.2 L1214.9 549.9 L1216.8 550.7 L1218.7 551.3 L1220.6 552 L1222.5 552.7 L1224.4 553.3 L1226.3 553.9 L1228.2 554.4 L1230.1 555 L1232.1 555.5 L1234 556.1 L1235.9 556.6 L1237.9 557.1 L1239.8 557.5 L1241.8 558 L1243.7 558.5 L1245.7 558.9 L1247.6 559.3 L1249.6 559.7 L1251.6 560.1 L1253.5 560.4 L1255.5 560.8 L1257.5 561.1 L1259.4 561.4 L1261.4 561.7 L1263.4 562 L1265.4 562.2 L1267.4 562.5 L1269.3 562.8 L1271.3 563 L1273.3 563.2 L1275.3 563.5 L1277.3 563.7 L1279.3 563.9 L1281.3 564.1 L1283.3 564.3 L1285.3 564.5 L1287.2 564.7 L1289.2 564.9 L1291.2 565.1 L1293.2 565.3 L1295.2 565.5 L1297.2 565.6 L1299.2 565.8 L1301.2 565.9 L1303.2 566.1 L1305.2 566.3 L1307.2 566.4 L1309.2 566.6 L1311.2 566.7 L1313.2 566.8 L1315.2 567 L1317.2 567.1 L1319.1 567.2 L1321.1 567.4 L1323.1 567.5 L1325.1 567.6 L1327.1 567.7 L1329.1 567.8 L1330.2 567.9" fill="none" stroke="#4470d2" stroke-width="2.5" stroke-dasharray="5.2 8.2" stroke-linejoin="round"/>
<rect x="616.4" y="9" width="776.4" height="624.2" fill="none" stroke="#1c1c1c" stroke-width="3.4"/>
<path d="M672.1 633.2 V622 M727.5 633.2 V627.4 M783 633.2 V622 M838.4 633.2 V627.4 M893.9 633.2 V622 M949.3 633.2 V627.4 M1004.8 633.2 V622 M1060.2 633.2 V627.4 M1115.6 633.2 V622 M1171.1 633.2 V627.4 M1226.5 633.2 V622 M1282 633.2 V627.4 M1337.4 633.2 V622" stroke="#1c1c1c" stroke-width="3.2" fill="none"/>
<g font-family='"Liberation Serif", "Times New Roman", serif' font-weight="700" font-size="35.5" text-anchor="middle" fill="#111">
<text x="672.1" y="676">800</text>
<text x="783" y="676">1000</text>
<text x="893.9" y="676">1200</text>
<text x="1004.8" y="676">1400</text>
<text x="1115.6" y="676">1600</text>
<text x="1226.5" y="676">1800</text>
<text x="1337.4" y="676">2000</text>
</g>
<g font-family='"Liberation Serif", "Times New Roman", serif' font-weight="700" fill="#111">
<text x="977" y="78.6" font-size="32" text-anchor="middle">D</text>
<text x="1105.8" y="46.8" font-size="32" text-anchor="middle">G</text>
<text x="851" y="732.5" font-size="38">Raman shift / cm<tspan dy="-12.6">-1</tspan></text>
<text transform="translate(582.3 310.3) rotate(-90)" font-size="38" text-anchor="middle">Intensity / a.u</text>
</g>
</g>
<g id="chart-b">
<path d="M192.7 1143.3 L469.1 1240.7" stroke="#3a3aff" stroke-width="2.4" stroke-dasharray="12 5 3 5" fill="none"/>
<path d="M469.1 1240.7 L745.5 1477.3" stroke="#3a3aff" stroke-width="2.4" stroke-dasharray="12 5 3 5" fill="none"/>
<path d="M192.7 1101.5 L469.1 1212.9" stroke="#ff3030" stroke-width="2.4" fill="none"/>
<path d="M469.1 1212.9 L745.5 1268.5" stroke="#ff3030" stroke-width="2.4" fill="none"/>
<circle cx="192.7" cy="1143.3" r="9.1" fill="#000000"/>
<circle cx="469.1" cy="1240.7" r="9.1" fill="#000000"/>
<circle cx="745.5" cy="1477.3" r="9.1" fill="#000000"/>
<rect x="184.7" y="1093.5" width="16" height="16" fill="#ff0000"/>
<rect x="461.1" y="1204.9" width="16" height="16" fill="#ff0000"/>
<rect x="737.5" y="1260.5" width="16" height="16" fill="#ff0000"/>
<rect x="123.9" y="962.3" width="691.3" height="556.8" fill="none" stroke="#3c3c3c" stroke-width="3"/>
<path d="M123.9 1519.1H112.3 M123.9 1449.5H112.3 M123.9 1379.9H112.3 M123.9 1310.3H112.3 M123.9 1240.7H112.3 M123.9 1171.1H112.3 M123.9 1101.5H112.3 M123.9 1031.9H112.3 M123.9 962.3H112.3 M123.9 1484.3H118.3 M123.9 1414.7H118.3 M123.9 1345.1H118.3 M123.9 1275.5H118.3 M123.9 1205.9H118.3 M123.9 1136.3H118.3 M123.9 1066.7H118.3 M123.9 997.1H118.3 M123.6 1519.1V1524.6 M192.7 1519.1V1530.1 M261.8 1519.1V1524.6 M330.9 1519.1V1530.1 M400 1519.1V1524.6 M469.1 1519.1V1530.1 M538.2 1519.1V1524.6 M607.3 1519.1V1530.1 M676.4 1519.1V1524.6 M745.5 1519.1V1530.1 M814.6 1519.1V1524.6" stroke="#3c3c3c" stroke-width="2.8" fill="none"/>
<g font-family='"Liberation Serif", "Times New Roman", serif' font-weight="700" font-size="34.5" fill="#111">
<text x="105" y="1530.7" text-anchor="end">1.70</text>
<text x="105" y="1461.1" text-anchor="end">1.75</text>
<text x="105" y="1391.5" text-anchor="end">1.80</text>
<text x="105" y="1321.9" text-anchor="end">1.85</text>
<text x="105" y="1252.3" text-anchor="end">1.90</text>
<text x="105" y="1182.7" text-anchor="end">1.95</text>
<text x="105" y="1113.1" text-anchor="end">2.00</text>
<text x="105" y="1043.5" text-anchor="end">2.05</text>
<text x="105" y="973.9" text-anchor="end">2.10</text>
<text x="193.2" y="1565" text-anchor="middle">2</text>
<text x="331.4" y="1565" text-anchor="middle">4</text>
<text x="469.6" y="1565" text-anchor="middle">6</text>
<text x="607.8" y="1565" text-anchor="middle">8</text>
<text x="746" y="1565" text-anchor="middle">10</text>
</g>
</g>
<g id="chart-c">
<path d="M1052.2 1175.2 L1324.8 1219" stroke="#3a3aff" stroke-width="2.4" stroke-dasharray="12 5 3 5" fill="none"/>
<path d="M1351 1229.7 L1628.6 1427.2" stroke="#3a3aff" stroke-width="2.4" stroke-dasharray="12 5 3 5" fill="none"/>
<path d="M1051.4 1053.7 L1325.6 1160.7" stroke="#ff3030" stroke-width="2.4" fill="none"/>
<path d="M1353 1170.4 L1626.6 1258.3" stroke="#ff3030" stroke-width="2.4" fill="none"/>
<circle cx="1037.9" cy="1172.9" r="9.1" fill="#0000ff"/>
<circle cx="1339.2" cy="1221.3" r="9.1" fill="#0000ff"/>
<circle cx="1640.4" cy="1435.6" r="9.1" fill="#0000ff"/>
<rect x="1029.9" y="1040.4" width="16" height="16" fill="#ff0000"/>
<rect x="1331.2" y="1158" width="16" height="16" fill="#ff0000"/>
<rect x="1632.4" y="1254.8" width="16" height="16" fill="#ff0000"/>
<rect x="963" y="965.5" width="753" height="553.1" fill="none" stroke="#262626" stroke-width="3"/>
<path d="M963 1518.6H951.4 M963 1449.5H951.4 M963 1380.3H951.4 M963 1311.2H951.4 M963 1242H951.4 M963 1172.9H951.4 M963 1103.8H951.4 M963 1034.6H951.4 M963 965.5H951.4 M963 1484H957 M963 1414.9H957 M963 1345.8H957 M963 1276.6H957 M963 1207.5H957 M963 1138.3H957 M963 1069.2H957 M963 1000H957 M962.6 1518.6V1524.1 M1037.9 1518.6V1529.6 M1113.2 1518.6V1524.1 M1188.5 1518.6V1529.6 M1263.8 1518.6V1524.1 M1339.2 1518.6V1529.6 M1414.5 1518.6V1524.1 M1489.8 1518.6V1529.6 M1565.1 1518.6V1524.1 M1640.4 1518.6V1529.6 M1715.7 1518.6V1524.1" stroke="#262626" stroke-width="2.8" fill="none"/>
<g font-family='"Liberation Serif", "Times New Roman", serif' font-weight="700" font-size="33.5" fill="#111">
<text x="943.8" y="1528.6" text-anchor="end">90</text>
<text x="943.8" y="1459.5" text-anchor="end">91</text>
<text x="943.8" y="1390.3" text-anchor="end">92</text>
<text x="943.8" y="1321.2" text-anchor="end">93</text>
<text x="943.8" y="1252" text-anchor="end">94</text>
<text x="943.8" y="1182.9" text-anchor="end">95</text>
<text x="943.8" y="1113.8" text-anchor="end">96</text>
<text x="943.8" y="1044.6" text-anchor="end">97</text>
<text x="943.8" y="975.5" text-anchor="end">98</text>
<text x="1038.4" y="1563.5" text-anchor="middle">2</text>
<text x="1189" y="1563.5" text-anchor="middle">4</text>
<text x="1339.7" y="1563.5" text-anchor="middle">6</text>
<text x="1490.3" y="1563.5" text-anchor="middle">8</text>
<text x="1640.9" y="1563.5" text-anchor="middle">10</text>
</g>
</g>
<g font-family='"Liberation Serif", "Times New Roman", serif' font-weight="700" fill="#111">
<text x="471.2" y="1600.2" font-size="34" text-anchor="middle">λ / %</text>
<text x="1317" y="1602.4" font-size="32.7" text-anchor="middle">λ / %</text>
<text transform="translate(886.5 1232.5) rotate(-90)" font-size="32" text-anchor="middle">FWHM / cm<tspan dy="-17" font-size="19">-1</tspan></text>
</g>
<text transform="translate(28.5 1245.3) rotate(-90)" font-family='"Liberation Serif", "Times New Roman", serif' font-weight="700" font-style="italic" font-size="35" text-anchor="middle" fill="#111">R</text>
<g>
<path d="M474 1019.3H540.2" stroke="#ff3030" stroke-width="2.4" fill="none"/>
<path d="M474 1055.4H540.2" stroke="#3a3aff" stroke-width="2.4" stroke-dasharray="11 5 3 5" fill="none"/>
<rect x="498.9" y="1011.3" width="16" height="16" fill="#ff0000"/>
<circle cx="506.9" cy="1055.4" r="9.1" fill="#000000"/>
<g font-family='"Liberation Serif", "Times New Roman", serif' font-weight="700" font-size="28" letter-spacing="0.65" fill="#111">
<text x="547" y="1029.7">180<tspan dx="-0.5">°</tspan><tspan dx="-2.5">C drawing</tspan></text>
<text x="547" y="1065.9">200<tspan dx="-0.5">°</tspan><tspan dx="-2.5">C drawing</tspan></text>
</g></g>
<g>
<path d="M1320.1 1016.3H1338.4 M1364.4 1016.3H1382.8" stroke="#ff3030" stroke-width="2.4" fill="none"/>
<path d="M1320.1 1056.1H1338.4" stroke="#3a3aff" stroke-width="2.4" stroke-dasharray="11 5 3 50" fill="none"/>
<path d="M1364.4 1056.1H1382.8" stroke="#3a3aff" stroke-width="2.4" stroke-dasharray="11 5 3 50" fill="none"/>
<rect x="1343.4" y="1008.3" width="16" height="16" fill="#ff0000"/>
<circle cx="1351.4" cy="1056.1" r="9.1" fill="#0000ff"/>
<g font-family='"Liberation Serif", "Times New Roman", serif' font-weight="700" font-size="30.5" letter-spacing="0.85" fill="#111">
<text x="1399" y="1025.4">180<tspan dx="-0.5">°</tspan><tspan dx="-2.5">C drawing</tspan></text>
<text x="1399" y="1065">200<tspan dx="-0.5">°</tspan><tspan dx="-2.5">C drawing</tspan></text>
</g></g>
</g>
<g font-family='"Liberation Serif", "Times New Roman", serif' fill="#000">
<text y="836" font-size="41" stroke="#000" stroke-width="0.3"><tspan x="591.2" textLength="47.2" lengthAdjust="spacingAndGlyphs">(a)</tspan> <tspan x="648.6" textLength="122.9" lengthAdjust="spacingAndGlyphs">Raman</tspan> <tspan x="784.1" textLength="125.3" lengthAdjust="spacingAndGlyphs">spectra</tspan> <tspan x="920.9" textLength="33.7" lengthAdjust="spacingAndGlyphs">of</tspan> <tspan x="966.1" textLength="85.7" lengthAdjust="spacingAndGlyphs">PAN</tspan> <tspan x="1065.7" textLength="98.5" lengthAdjust="spacingAndGlyphs">based</tspan> <tspan x="1178" textLength="120.5" lengthAdjust="spacingAndGlyphs">carbon</tspan> <tspan x="1309.9" textLength="81.4" lengthAdjust="spacingAndGlyphs">fiber</tspan></text>
<text y="1706.6" font-size="41" stroke="#000" stroke-width="0.3"><tspan x="482.2" textLength="47.3" lengthAdjust="spacingAndGlyphs">(b)</tspan> <tspan x="540" textLength="27.2" lengthAdjust="spacingAndGlyphs">R</tspan></text>
<text y="1706.9" font-size="41" stroke="#000" stroke-width="0.3"><tspan x="1310.6" textLength="42.4" lengthAdjust="spacingAndGlyphs">(c)</tspan> <tspan x="1367" textLength="134" lengthAdjust="spacingAndGlyphs">FWHM</tspan></text>
</g>
</svg>
</body>
</html>
